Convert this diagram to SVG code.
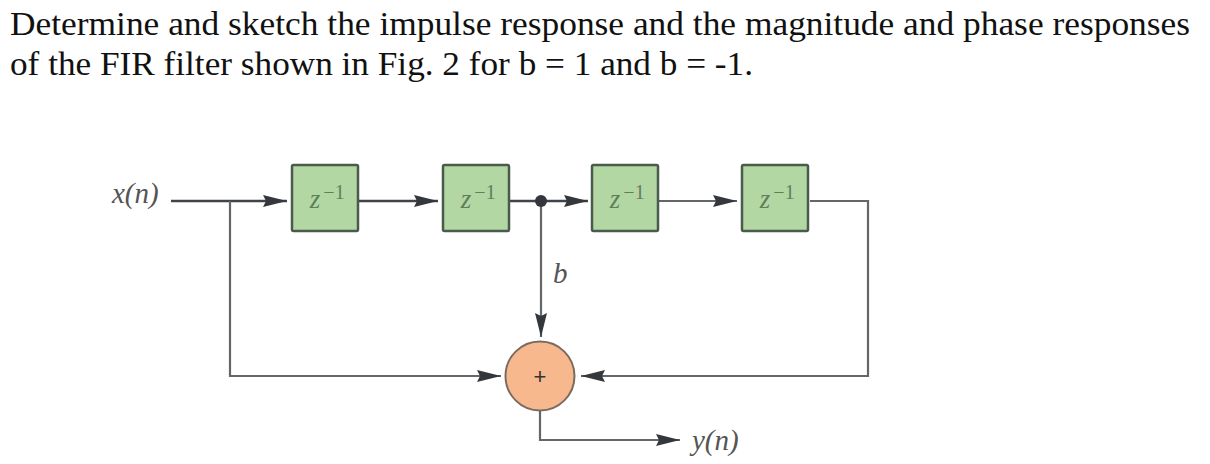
<svg xmlns="http://www.w3.org/2000/svg" width="1210" height="464" viewBox="0 0 1210 464">
<style>
.h{font-family:"Liberation Serif","Times New Roman",serif;font-size:34px;fill:#111}
.l{font-family:"Liberation Serif","Times New Roman",serif;font-style:italic;font-size:29px;fill:#555}
.z{font-family:"Liberation Serif","Times New Roman",serif;font-style:italic;font-size:27px;fill:#5f7f5c;text-anchor:middle}
.s{font-family:"Liberation Serif","Times New Roman",serif;font-size:20px;fill:#5f7f5c;text-anchor:middle}
.b{fill:#b3d7a3;stroke:#4a5a4c;stroke-width:2.5}
.c{fill:none;stroke:#64676a;stroke-width:2.2}
.d{stroke:#404347;stroke-width:2.6}
</style>
<defs><marker id="a" markerUnits="userSpaceOnUse" markerWidth="26" markerHeight="14" refX="24" refY="7" orient="auto"><path d="M0,1 L24,7 L0,13 L3,7Z" fill="#34373c"/></marker></defs>
<rect width="1210" height="464" fill="#fff"/>
<text class="h" x="10" y="35" textLength="1180" lengthAdjust="spacingAndGlyphs">Determine and sketch the impulse response and the magnitude and phase responses</text>
<text class="h" x="10" y="75" textLength="743" lengthAdjust="spacingAndGlyphs">of the FIR filter shown in Fig. 2 for b = 1 and b = -1.</text>
<g id="connectors">
<path class="c d" d="M171,201 H287" marker-end="url(#a)"/>
<path class="c d" d="M359,201 H438" marker-end="url(#a)"/>
<path class="c d" d="M509,201 H588" marker-end="url(#a)"/>
<path class="c" d="M659,201 H737" marker-end="url(#a)"/>
<path class="c" d="M810,201 H868 V376 H581" marker-end="url(#a)"/>
<path class="c" d="M230,201 V376 H501" marker-end="url(#a)"/>
<path class="c" d="M541,201 V337" marker-end="url(#a)"/>
<path class="c" d="M540,410 V440 H680" marker-end="url(#a)"/>
<circle cx="541" cy="201" r="6" fill="#33363c"/>
</g>
<g id="x"><text class="l" x="112" y="203">x(n)</text></g>
<g id="d1"><rect class="b" x="292" y="165" width="66" height="66" rx="1.5"/><text class="z" x="315" y="208">z</text><text class="s" x="334" y="199">−1</text></g>
<g id="d2"><rect class="b" x="443" y="165" width="66" height="66" rx="1.5"/><text class="z" x="466" y="208">z</text><text class="s" x="485" y="199">−1</text></g>
<g id="d3"><rect class="b" x="592" y="165" width="66" height="66" rx="1.5"/><text class="z" x="615" y="208">z</text><text class="s" x="634" y="199">−1</text></g>
<g id="d4"><rect class="b" x="742" y="165" width="66" height="66" rx="1.5"/><text class="z" x="765" y="208">z</text><text class="s" x="784" y="199">−1</text></g>
<g id="blabel"><text class="l" x="553" y="283">b</text></g>
<g id="sum"><circle cx="540" cy="376" r="34.5" fill="#f8b88e" stroke="#7a6a60" stroke-width="2"/><text x="540" y="384" text-anchor="middle" font-family="Liberation Sans,sans-serif" font-size="22" fill="#333">+</text></g>
<g id="y"><text class="l" x="692" y="450">y(n)</text></g>
</svg>
